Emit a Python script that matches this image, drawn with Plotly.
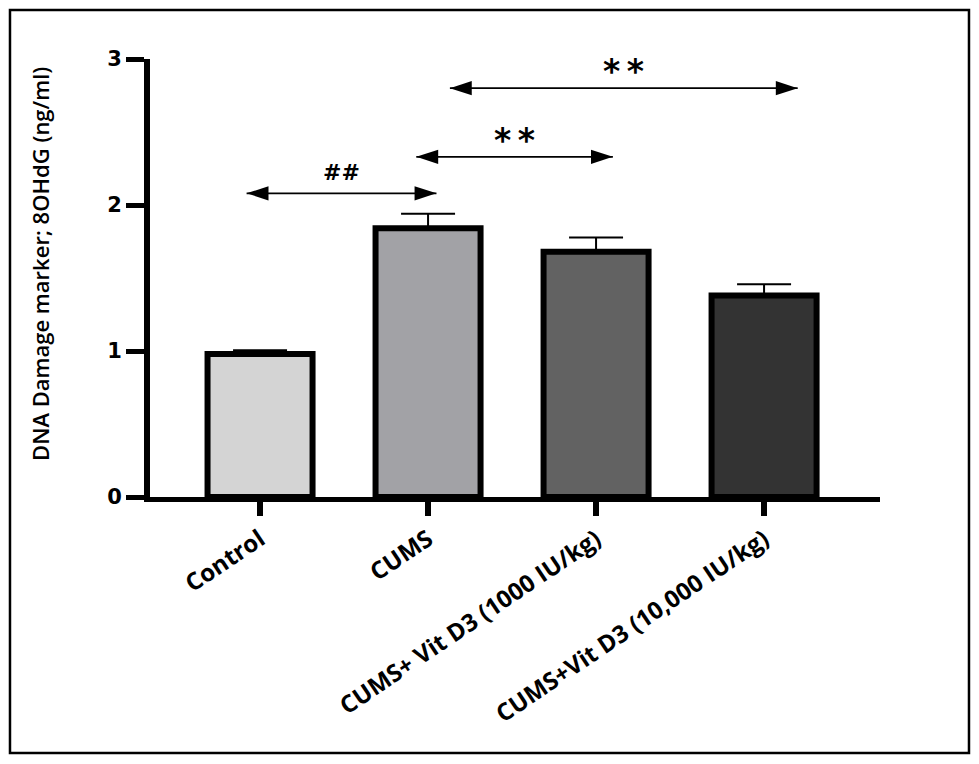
import plotly.graph_objects as go

# ---------------- data ----------------
categories = ["Control", "CUMS", "CUMS+ Vit D3 (1000 IU/kg)", "CUMS+Vit D3 (10,000 IU/kg)"]
means = [0.98, 1.84, 1.68, 1.38]
sems = [0.025, 0.10, 0.097, 0.078]
bar_colors = ["#d4d4d4", "#a2a2a6", "#626262", "#333333"]

y_ticks = [0, 1, 2, 3]
y_title = "DNA Damage marker; 8OHdG (ng/ml)"

# significance comparisons (arrow from x0 to x1 at height y, label above)
comp_labels = ["##", "*\u2009*", "*\u2009*"]
comp_x0 = [-0.08, 0.93, 1.13]
comp_x1 = [1.05, 2.10, 3.20]
comp_y = [2.08, 2.33, 2.80]

# ---------------- figure ----------------
xpos = list(range(len(categories)))

fig = go.Figure()
fig.add_trace(go.Bar(
    x=xpos, y=means, width=0.625,
    marker=dict(color=bar_colors, line=dict(color="black", width=6)),
    error_y=dict(type="data", array=sems, arrayminus=[0] * len(sems), symmetric=False,
                 color="black", thickness=2, width=27),
    showlegend=False, hoverinfo="skip",
))

for lab, x0, x1, y in zip(comp_labels, comp_x0, comp_x1, comp_y):
    fig.add_trace(go.Scatter(
        x=[x0, x1], y=[y, y], mode="lines+markers",
        line=dict(color="black", width=1.8),
        marker=dict(symbol="arrow", size=23, angle=[-90, 90], color="black",
                    line=dict(width=0)),
        cliponaxis=False, showlegend=False, hoverinfo="skip",
    ))
    is_hash = lab.startswith("#")
    fig.add_annotation(
        x=(x0 + x1) / 2, y=y, xref="x", yref="y", text=lab, showarrow=False,
        yanchor="bottom", yshift=6 if is_hash else -5,
        font=dict(family="DejaVu Sans", size=22 if is_hash else 33, color="black", weight="bold"),
    )

# y-axis title as annotation
fig.add_annotation(
    x=-0.1507, y=0.532, xref="paper", yref="paper", text=y_title, textangle=-90,
    showarrow=False, xanchor="center", yanchor="middle",
    font=dict(family="Open Sans", size=22, color="black", weight=600),
)

# outer frame
fig.add_shape(type="rect", xref="paper", yref="paper",
              x0=-0.1918, x1=1.1219, y0=-0.5845, y1=1.1119,
              line=dict(color="black", width=2.5), layer="above")

fig.update_layout(
    template="none",
    width=979, height=764,
    margin=dict(l=150, r=99, t=59, b=267, autoexpand=False),
    paper_bgcolor="white", plot_bgcolor="white",
    showlegend=False,
    xaxis=dict(
        range=[-0.655, 3.69], tickmode="array", tickvals=xpos, ticktext=categories,
        tickangle=-34, ticks="outside", ticklen=14, tickwidth=6, tickcolor="black",
        showline=True, linewidth=5, linecolor="black",
        showgrid=False, zeroline=False, automargin=False,
        tickfont=dict(family="Open Sans", size=24, color="black", weight="bold"),
    ),
    yaxis=dict(
        range=[0, 3], tickmode="array", tickvals=y_ticks,
        ticks="outside", ticklen=18, tickwidth=5, tickcolor="black",
        showline=True, linewidth=6, linecolor="black",
        showgrid=False, zeroline=False, automargin=False,
        tickfont=dict(family="DejaVu Sans", size=21, color="black", weight="bold"),
    ),
)

fig.write_html("out.html")
